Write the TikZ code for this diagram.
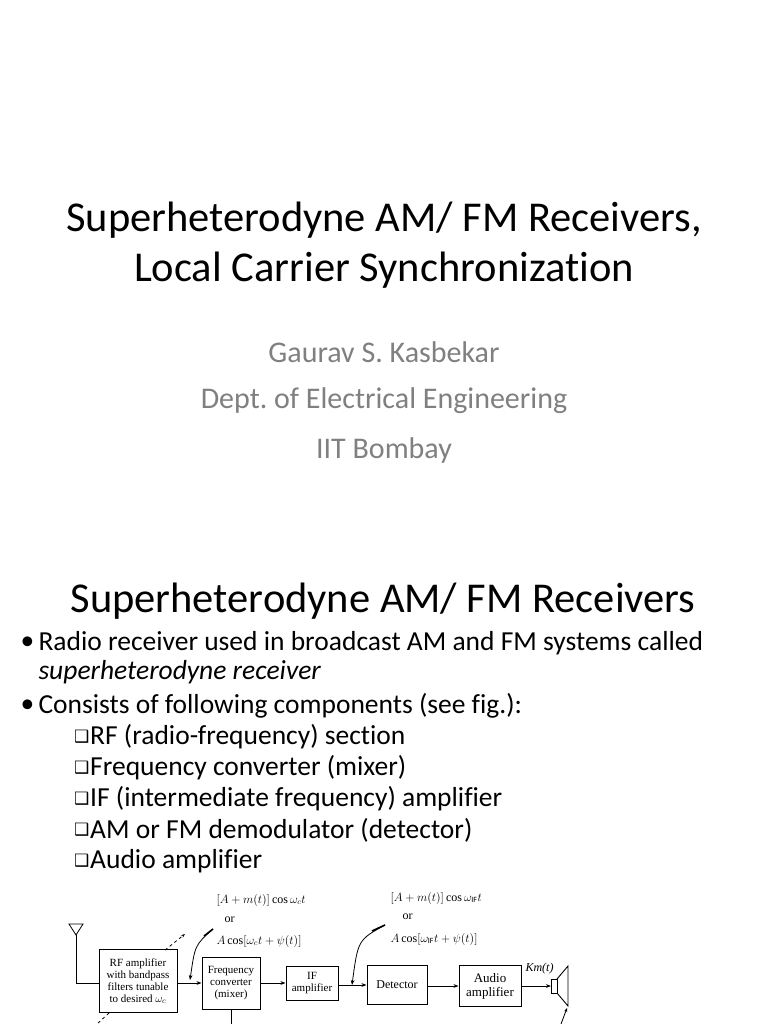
\documentclass[tikz,border=0pt]{standalone}
\usepackage{fontspec}
\setmainfont[Ligatures=NoCommon]{Carlito}
\newfontfamily\dia{Liberation Serif}
\newfontfamily\djv{DejaVu Sans}
\newcommand\dcos{\mathop{\hbox{\dia cos}}\nolimits}
\usetikzlibrary{arrows.meta}
\frenchspacing
\begin{document}
\begin{tikzpicture}[x=1pt,y=-1pt,
  blk/.style={draw,line width=1pt,align=center,font=\dia\fontsize{11}{12}\selectfont,inner sep=0pt},
  lbl/.style={font=\dia\fontsize{12}{13}\selectfont,anchor=west},
  sig/.style={line width=0.8pt,-{Stealth[length=5pt]}},
  tl/.style={font=\fontsize{42.5}{44}\selectfont},
  sub/.style={font=\fontsize{30}{32}\selectfont,text=black!50},
  bt/.style={font=\fontsize{27.5}{29}\selectfont,anchor=west}]
\path[use as bounding box,fill=white] (0,0) rectangle (768,1024);
\node[tl] (t1) at (384,220) {Superheterodyne AM/ FM Receivers,};
\node[tl] (t2) at (384,270) {Local Carrier Synchronization};
\node[sub] (a1) at (384,352) {Gaurav S. Kasbekar};
\node[sub] (a2) at (384,401) {Dept. of Electrical Engineering};
\node[sub] (a3) at (384,450) {IIT Bombay};
\node[tl] (h) at (383,601) {Superheterodyne AM/ FM Receivers};
\node[bt] (b0) at (17,643) {•};
\node[bt] (b1) at (35,643) {Radio receiver used in broadcast AM and FM systems called};
\node[bt] (b2) at (35,672) {\itshape superheterodyne receiver};
\node[bt] (b3) at (17,706) {•};
\node[bt] (b4) at (35,706) {Consists of following components (see fig.):};
\foreach \y/\t [count=\i] in {737/RF (radio-frequency) section,768/Frequency converter (mixer),799/IF (intermediate frequency) amplifier,830/AM or FM demodulator (detector),861/Audio amplifier}{
  \node[anchor=west,inner sep=0pt,font=\djv\fontsize{17}{18}\selectfont] (q\i) at (74,\y) {❑};
  \node[anchor=west,inner sep=0pt,font=\fontsize{27.5}{29}\selectfont] (s\i) at (90,\y) {\t};
}
% diagram
\node[blk,minimum width=78pt,minimum height=63pt] (rf) at (138,981) {RF amplifier\\with bandpass\\filters tunable\\to desired $\omega_c$};
\node[blk,minimum width=58pt,minimum height=52pt] (fc) at (231,983) {Frequency\\converter\\(mixer)};
\node[blk,minimum width=52pt,minimum height=34pt] (ifa) at (312,983) {IF\\amplifier};
\node[blk,minimum width=60pt,minimum height=39pt,font=\dia\fontsize{12}{13}\selectfont] (det) at (397,985) {Detector};
\node[blk,minimum width=62pt,minimum height=41pt,font=\dia\fontsize{13}{14}\selectfont] (aud) at (490,986) {Audio\\amplifier};
\coordinate (antt) at (76,935);
\coordinate (antb) at (76,983);
\draw[line width=0.8pt] (69,924) -- (83,924) -- (antt) -- cycle;
\draw[line width=0.8pt] (antt) -- (antb) -- (rf.west |- antb);
\draw[sig] (rf.east |- fc) -- (fc.west);
\draw[sig] (fc.east) -- (ifa.west);
\draw[sig] (ifa.east |- det) -- (det.west);
\draw[sig] (det.east |- aud) -- (aud.west);
\coordinate (sp) at (551,986);
\draw[sig] (aud.east) -- (sp);
\draw[line width=0.9pt] (551,979) rectangle (557,993);
\draw[line width=0.9pt] (557,979) -- (568,966) -- (568,1006) -- (557,993);
\node[lbl,font=\dia\itshape\fontsize{12}{13}\selectfont] (km) at (522,969) {Km(t)};
\node[lbl] (e1) at (213,900) {$[A+m(t)]\dcos\omega_c t$};
\node[lbl] (e2) at (221,920) {or};
\node[lbl] (e3) at (213,941) {$A\dcos[\omega_c t+\psi(t)]$};
\node[lbl] (f1) at (387,898) {$[A+m(t)]\dcos\omega_{\mathrm{IF}} t$};
\node[lbl] (f2) at (399,917) {or};
\node[lbl] (f3) at (387,939) {$A\dcos[\omega_{\mathrm{IF}} t+\psi(t)]$};
\coordinate (c1) at (190,980);
\coordinate (c2) at (352,985);
\draw[line width=0.8pt,-{Stealth[length=5pt]}] (213,929) .. controls (195,945) .. (c1);
\draw[line width=1.6pt] (204,936) -- (213,929);
\draw[line width=0.8pt,-{Stealth[length=5pt]}] (385,925) .. controls (358,940) .. (c2);
\draw[line width=1.6pt] (372,931) -- (385,925);
\draw[dashed,line width=0.8pt,-{Stealth[length=4pt]}] (165,950) -- (185,934);
\draw[dashed,line width=0.8pt] (109,1013) -- (97,1024);
\draw[line width=0.8pt] (fc.south) -- (fc.south |- 0,1024);
\draw[line width=0.8pt,-{Stealth[length=4pt]}] (561,1024) -- (567,1008);
\end{tikzpicture}
\end{document}
